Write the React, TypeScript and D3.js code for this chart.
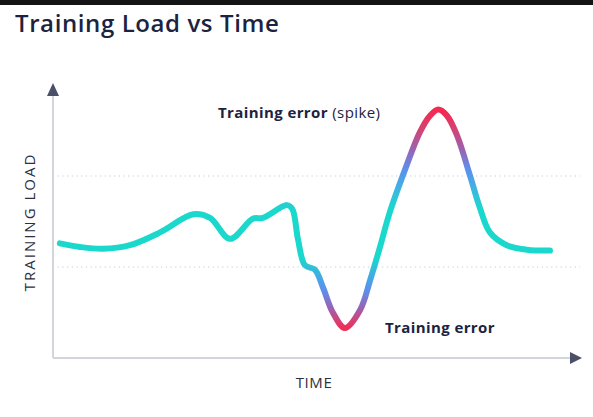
import React, { useRef, useEffect } from "react"
import * as d3 from "d3"

// time (0-100) and training load (gridlines at 1 and 2)
const times = [1.3, 5.1, 9.5, 14.6, 20.3, 26.6, 29.8, 33.6, 37.9, 39.8, 44.4, 45.4, 46.5, 47.8, 49.7, 51.2, 53.1, 55.4, 58.3, 60.2, 62.0, 63.9, 66.8, 69.6, 71.5, 73.1, 74.8, 76.7, 79.1, 81.0, 82.9, 86.1, 89.9, 94.3]
const loads = [1.26, 1.22, 1.2, 1.24, 1.38, 1.58, 1.54, 1.31, 1.53, 1.54, 1.68, 1.64, 1.3, 1.02, 0.97, 0.78, 0.5, 0.33, 0.53, 0.86, 1.21, 1.6, 2.07, 2.48, 2.66, 2.73, 2.66, 2.44, 2.01, 1.65, 1.38, 1.24, 1.19, 1.18]
const gridLoads = [1, 2]

// colour along the load axis (extremes turn red)
const stopLoads = [2.72, 2.53, 2.29, 2.07, 1.79, 1.63, 1.1, 0.91, 0.75, 0.55, 0.42, 0.31]
const stopColors = ["#f42a52", "#d8406e", "#9a62b4", "#5b90ee", "#34c0dc", "#1ad8cc", "#1ad8cc", "#40aee0", "#5b90ee", "#9a62b4", "#d04478", "#f42a52"]

const W = 593
const H = 417
const font = "'Open Sans', 'Noto Sans', sans-serif"

const App: React.FC = () => {
  const svgRef = useRef<SVGSVGElement>(null)

  useEffect(() => {
    if (!svgRef.current) return
    const svg = d3.select(svgRef.current)
    svg.selectAll("*").remove()

    const x = d3.scaleLinear().domain([0, 100]).range([53, 580])
    const y = d3.scaleLinear().domain([0, 3]).range([358, 85])

    // top dark strip
    svg.append("rect").attr("x", 0).attr("y", 0).attr("width", W).attr("height", 5).attr("fill", "#141414")

    svg.append("text")
      .attr("x", 15).attr("y", 32)
      .attr("font-family", font).attr("font-size", 24).attr("font-weight", 600)
      .attr("letter-spacing", 0.6)
      .attr("fill", "#1c2340")
      .text("Training Load vs Time")

    // gridlines
    svg.selectAll(".grid")
      .data(gridLoads)
      .enter().append("line")
      .attr("class", "grid")
      .attr("x1", x(0)).attr("x2", x(100))
      .attr("y1", d => y(d)).attr("y2", d => y(d))
      .attr("stroke", "#c9cbd0").attr("stroke-width", 1.2)
      .attr("stroke-dasharray", "1.2,3.5")

    // axes
    svg.append("line")
      .attr("x1", x(0)).attr("x2", x(100) - 6)
      .attr("y1", y(0)).attr("y2", y(0))
      .attr("stroke", "#d3d5da").attr("stroke-width", 2)
    svg.append("line")
      .attr("x1", x(0)).attr("x2", x(0))
      .attr("y1", y(0)).attr("y2", y(3) + 10)
      .attr("stroke", "#d3d5da").attr("stroke-width", 2)

    const xe = x(100) + 2, ye = y(0)
    svg.append("path")
      .attr("d", `M${xe},${ye} L${xe - 12},${ye - 6} L${xe - 12},${ye + 6} Z`)
      .attr("fill", "#4b5068")
    const xa = x(0), ya = y(3) - 2
    svg.append("path")
      .attr("d", `M${xa},${ya} L${xa - 6},${ya + 13} L${xa + 6},${ya + 13} Z`)
      .attr("fill", "#4b5068")

    // axis titles
    svg.append("text")
      .attr("x", 314).attr("y", 388)
      .attr("text-anchor", "middle")
      .attr("font-family", font).attr("font-size", 15).attr("letter-spacing", 0.6)
      .attr("fill", "#2c3040")
      .text("TIME")
    svg.append("text")
      .attr("transform", `translate(35,222) rotate(-90)`)
      .attr("text-anchor", "middle")
      .attr("font-family", font).attr("font-size", 15).attr("letter-spacing", 2)
      .attr("fill", "#2c3040")
      .text("TRAINING LOAD")

    // gradient
    const grad = svg.append("defs").append("linearGradient")
      .attr("id", "load-grad")
      .attr("gradientUnits", "userSpaceOnUse")
      .attr("x1", 0).attr("x2", 0)
      .attr("y1", y(3)).attr("y2", y(0))
    grad.selectAll("stop")
      .data(stopLoads)
      .enter().append("stop")
      .attr("offset", d => (y(d) - y(3)) / (y(0) - y(3)))
      .attr("stop-color", (_, i) => stopColors[i])

    const pts: [number, number][] = times.map((t, i) => [t, loads[i]])
    const line = d3.line<[number, number]>()
      .x(d => x(d[0]))
      .y(d => y(d[1]))
      .curve(d3.curveCatmullRom.alpha(0.5))

    svg.append("path")
      .attr("d", line(pts))
      .attr("fill", "none")
      .attr("stroke", "url(#load-grad)")
      .attr("stroke-width", 6)
      .attr("stroke-linecap", "round")
      .attr("stroke-linejoin", "round")

    // annotations
    const spike = svg.append("text")
      .attr("x", 218).attr("y", 118)
      .attr("font-family", font).attr("font-size", 15)
      .attr("letter-spacing", 0.4)
      .attr("fill", "#1c2340")
    spike.append("tspan").attr("font-weight", 700).text("Training error ")
    spike.append("tspan").attr("font-weight", 400).text("(spike)")

    svg.append("text")
      .attr("x", 385).attr("y", 333)
      .attr("font-family", font).attr("font-size", 15).attr("font-weight", 700)
      .attr("letter-spacing", 0.4)
      .attr("fill", "#1c2340")
      .text("Training error")
  }, [])

  return (
    <svg ref={svgRef} width={W} height={H}
      style={{ position: "absolute", left: 0, top: 0, background: "#fff" }} />
  )
}

export default App
